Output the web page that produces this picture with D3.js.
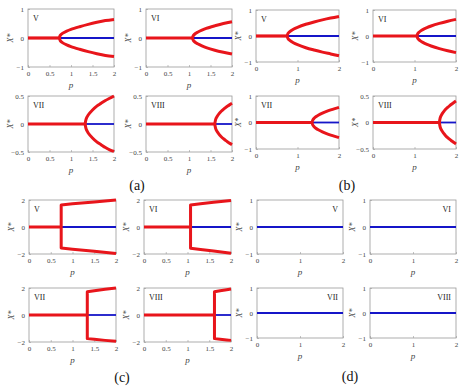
<!DOCTYPE html>
<html><head><meta charset="utf-8">
<script src="https://cdn.jsdelivr.net/npm/d3@7"></script>
<style>
html,body{margin:0;padding:0;background:#fff;}
svg{display:block;}
</style></head>
<body>
<svg id="chart" width="474" height="389"></svg>
<script>
// ---------------- data ----------------
const pTicksFine = [0, 0.5, 1, 1.5, 2];
const pTicksCoarse = [0, 1, 2];
const yTicksOne = [-1, 0, 1];
const yTicksHalf = [-0.5, 0, 0.5];
const yTicksTwo = [-2, 0, 2];
const romanLabels = ["V", "VI", "VII", "VIII"];
const groupLabels = ["(a)", "(b)", "(c)", "(d)"];

// (a) pitchfork branches: p values, upper and lower X*
const aV_p  = [0.73, 0.75, 0.8, 0.9, 1.0, 1.2, 1.4, 1.6, 1.8, 2.0];
const aV_up = [0, 0.09, 0.16, 0.24, 0.30, 0.39, 0.47, 0.54, 0.60, 0.64];
const aV_lo = [0, -0.09, -0.16, -0.24, -0.30, -0.39, -0.47, -0.54, -0.60, -0.64];
const aVI_p  = [1.08, 1.1, 1.15, 1.2, 1.3, 1.4, 1.6, 1.8, 2.0];
const aVI_up = [0, 0.08, 0.155, 0.2, 0.27, 0.33, 0.42, 0.5, 0.56];
const aVI_lo = [0, -0.08, -0.155, -0.2, -0.27, -0.33, -0.42, -0.49, -0.55];
const aVII_p  = [1.33, 1.35, 1.4, 1.5, 1.6, 1.7, 1.8, 1.9, 2.0];
const aVII_up = [0, 0.085, 0.16, 0.25, 0.32, 0.37, 0.42, 0.46, 0.5];
const aVII_lo = [0, -0.085, -0.16, -0.25, -0.32, -0.37, -0.42, -0.46, -0.49];
const aVIII_p  = [1.6, 1.62, 1.65, 1.7, 1.75, 1.8, 1.85, 1.9, 1.95, 2.0];
const aVIII_up = [0, 0.083, 0.131, 0.185, 0.227, 0.262, 0.292, 0.32, 0.346, 0.37];
const aVIII_lo = [0, -0.083, -0.131, -0.185, -0.227, -0.262, -0.292, -0.32, -0.346, -0.37];

// (b)
const bV_p  = [0.75, 0.77, 0.8, 0.9, 1.0, 1.2, 1.4, 1.6, 1.8, 2.0];
const bV_up = [0, 0.095, 0.15, 0.26, 0.335, 0.45, 0.54, 0.62, 0.69, 0.75];
const bV_lo = [0, -0.095, -0.15, -0.26, -0.335, -0.45, -0.54, -0.62, -0.69, -0.76];
const bVI_p  = [1.06, 1.08, 1.1, 1.15, 1.2, 1.3, 1.4, 1.6, 1.8, 2.0];
const bVI_up = [0, 0.093, 0.132, 0.198, 0.247, 0.323, 0.385, 0.485, 0.568, 0.64];
const bVI_lo = [0, -0.093, -0.132, -0.198, -0.247, -0.323, -0.385, -0.485, -0.568, -0.64];
const bVII_p  = [1.35, 1.37, 1.4, 1.45, 1.5, 1.6, 1.7, 1.8, 1.9, 2.0];
const bVII_up = [0, 0.1, 0.158, 0.224, 0.274, 0.354, 0.418, 0.474, 0.524, 0.57];
const bVII_lo = [0, -0.1, -0.158, -0.224, -0.274, -0.354, -0.418, -0.474, -0.524, -0.57];
const bVIII_p  = [1.6, 1.62, 1.65, 1.7, 1.75, 1.8, 1.85, 1.9, 1.95, 2.0];
const bVIII_up = [0, 0.09, 0.143, 0.2, 0.248, 0.286, 0.32, 0.35, 0.379, 0.405];
const bVIII_lo = [0, -0.09, -0.143, -0.2, -0.248, -0.286, -0.32, -0.35, -0.379, -0.405];

// (c) jump branches
const cV_p  = [0.74, 1.0, 1.5, 2.0];
const cV_up = [1.63, 1.72, 1.86, 2.0];
const cV_lo = [-1.55, -1.64, -1.8, -1.97];
const cVI_p  = [1.07, 1.3, 1.6, 2.0];
const cVI_up = [1.63, 1.72, 1.83, 1.97];
const cVI_lo = [-1.58, -1.67, -1.78, -1.95];
const cVII_p  = [1.34, 1.5, 1.75, 2.0];
const cVII_up = [1.72, 1.8, 1.9, 2.0];
const cVII_lo = [-1.75, -1.8, -1.88, -1.95];
const cVIII_p  = [1.62, 1.75, 1.9, 2.0];
const cVIII_up = [1.72, 1.8, 1.87, 1.92];
const cVIII_lo = [-1.75, -1.8, -1.85, -1.88];

// (d) only the zero line
const dZero_p = [0, 2];
const dZero_x = [0, 0];

// ---------------- drawing ----------------
const svg = d3.select("#chart");
const RED = "#e8151b", BLUE = "#1515c8";
const FONT = "'Liberation Serif', 'DejaVu Serif', serif";

function panel(cfg) {
  const g = svg.append("g");
  const x = d3.scaleLinear().domain([0, 2]).range([cfg.x0, cfg.x1]);
  const y = d3.scaleLinear().domain([-cfg.ymax, cfg.ymax]).range([cfg.y1, cfg.y0]);

  // frame
  g.append("rect").attr("x", cfg.x0).attr("y", cfg.y0)
    .attr("width", cfg.x1 - cfg.x0).attr("height", cfg.y1 - cfg.y0)
    .attr("fill", "#fff").attr("stroke", "#9a9a9a").attr("stroke-width", 0.8);

  // axes
  const xa = g.append("g").attr("transform", `translate(0,${cfg.y1})`)
    .call(d3.axisBottom(x).tickValues(cfg.xt).tickSize(-2).tickPadding(4).tickFormat(d3.format("")));
  const ya = g.append("g").attr("transform", `translate(${cfg.x0},0)`)
    .call(d3.axisLeft(y).tickValues(cfg.yt).tickSize(-2).tickPadding(4).tickFormat(d3.format("")));
  [xa, ya].forEach(a => {
    a.select(".domain").remove();
    a.selectAll("line").attr("stroke", "#9a9a9a").attr("stroke-width", 0.6);
    a.selectAll("text").attr("font-family", FONT).attr("font-size", 7).attr("fill", "#444");
  });

  // axis labels
  g.append("text").attr("x", (cfg.x0 + cfg.x1) / 2).attr("y", cfg.y1 + 21)
    .attr("text-anchor", "middle").attr("font-family", FONT).attr("font-style", "italic")
    .attr("font-size", 9).attr("fill", "#444").text("p");
  g.append("text")
    .attr("transform", `translate(${cfg.x0 - 15},${(cfg.y0 + cfg.y1) / 2}) rotate(-90)`)
    .attr("text-anchor", "middle").attr("font-family", FONT).attr("font-style", "italic")
    .attr("font-size", 8).attr("fill", "#444").text("X*");

  const line = d3.line().x(d => x(d[0])).y(d => y(d[1]));

  if (cfg.p) {
    const pc = cfg.p[0];
    // red stable segment before bifurcation
    g.append("path").attr("d", line([[0, 0], [pc, 0]]))
      .attr("fill", "none").attr("stroke", RED).attr("stroke-width", 3.2);
    // blue unstable branch after
    g.append("path").attr("d", line([[pc, 0], [2, 0]]))
      .attr("fill", "none").attr("stroke", BLUE).attr("stroke-width", 1.8);
    // branches
    const upPts = cfg.p.map((p, i) => [p, cfg.up[i]]).reverse();
    const loPts = cfg.p.map((p, i) => [p, cfg.lo[i]]);
    const pts = upPts.concat(loPts);
    const l2 = cfg.jump ? line : line.curve(d3.curveCatmullRom.alpha(0.5));
    g.append("path").attr("d", l2(pts))
      .attr("fill", "none").attr("stroke", RED).attr("stroke-width", 3)
      .attr("stroke-linejoin", "round");
  } else {
    g.append("path").attr("d", line(dZero_p.map((p, i) => [p, dZero_x[i]])))
      .attr("fill", "none").attr("stroke", BLUE).attr("stroke-width", 2);
  }

  // roman label
  g.append("text")
    .attr("x", cfg.right ? cfg.x1 - 5 : cfg.x0 + 5)
    .attr("y", cfg.y0 + 12)
    .attr("text-anchor", cfg.right ? "end" : "start")
    .attr("font-family", FONT).attr("font-size", 8).attr("fill", "#222")
    .text(cfg.label);
}

const specs = [
  // (a)
  {x0: 28, x1: 114, y0: 9, y1: 67, ymax: 1, xt: pTicksFine, yt: yTicksOne, label: romanLabels[0], p: aV_p, up: aV_up, lo: aV_lo},
  {x0: 146, x1: 232, y0: 9, y1: 67, ymax: 1, xt: pTicksFine, yt: yTicksOne, label: romanLabels[1], p: aVI_p, up: aVI_up, lo: aVI_lo},
  {x0: 28, x1: 114, y0: 96, y1: 152, ymax: 0.5, xt: pTicksFine, yt: yTicksHalf, label: romanLabels[2], p: aVII_p, up: aVII_up, lo: aVII_lo},
  {x0: 146, x1: 232, y0: 96, y1: 152, ymax: 0.5, xt: pTicksFine, yt: yTicksHalf, label: romanLabels[3], p: aVIII_p, up: aVIII_up, lo: aVIII_lo},
  // (b)
  {x0: 256, x1: 339, y0: 10, y1: 62, ymax: 1, xt: pTicksCoarse, yt: yTicksOne, label: romanLabels[0], p: bV_p, up: bV_up, lo: bV_lo},
  {x0: 373, x1: 456, y0: 10, y1: 62, ymax: 1, xt: pTicksCoarse, yt: yTicksOne, label: romanLabels[1], p: bVI_p, up: bVI_up, lo: bVI_lo},
  {x0: 256, x1: 339, y0: 96, y1: 149, ymax: 1, xt: pTicksCoarse, yt: yTicksOne, label: romanLabels[2], p: bVII_p, up: bVII_up, lo: bVII_lo},
  {x0: 373, x1: 456, y0: 96, y1: 149, ymax: 0.5, xt: pTicksCoarse, yt: yTicksHalf, label: romanLabels[3], p: bVIII_p, up: bVIII_up, lo: bVIII_lo},
  // (c)
  {x0: 29, x1: 116, y0: 200, y1: 254, ymax: 2, xt: pTicksFine, yt: yTicksTwo, label: romanLabels[0], p: cV_p, up: cV_up, lo: cV_lo, jump: true},
  {x0: 144, x1: 231, y0: 200, y1: 254, ymax: 2, xt: pTicksFine, yt: yTicksTwo, label: romanLabels[1], p: cVI_p, up: cVI_up, lo: cVI_lo, jump: true},
  {x0: 29, x1: 116, y0: 288, y1: 342, ymax: 2, xt: pTicksFine, yt: yTicksTwo, label: romanLabels[2], p: cVII_p, up: cVII_up, lo: cVII_lo, jump: true},
  {x0: 144, x1: 231, y0: 288, y1: 342, ymax: 2, xt: pTicksFine, yt: yTicksTwo, label: romanLabels[3], p: cVIII_p, up: cVIII_up, lo: cVIII_lo, jump: true},
  // (d)
  {x0: 257, x1: 343, y0: 200, y1: 254, ymax: 1, xt: pTicksCoarse, yt: yTicksOne, label: romanLabels[0], right: true},
  {x0: 370, x1: 456, y0: 200, y1: 254, ymax: 1, xt: pTicksCoarse, yt: yTicksOne, label: romanLabels[1], right: true},
  {x0: 257, x1: 343, y0: 288, y1: 338, ymax: 1, xt: pTicksCoarse, yt: yTicksOne, label: romanLabels[2], right: true},
  {x0: 370, x1: 456, y0: 288, y1: 338, ymax: 1, xt: pTicksCoarse, yt: yTicksOne, label: romanLabels[3], right: true}
];
specs.forEach(panel);

// group captions
const capPos = [[137, 190], [347, 190], [122, 382], [350, 381]];
groupLabels.forEach((t, i) => {
  svg.append("text").attr("x", capPos[i][0]).attr("y", capPos[i][1])
    .attr("text-anchor", "middle").attr("font-family", FONT).attr("font-size", 14)
    .attr("fill", "#111").text(t);
});
</script>
</body></html>
